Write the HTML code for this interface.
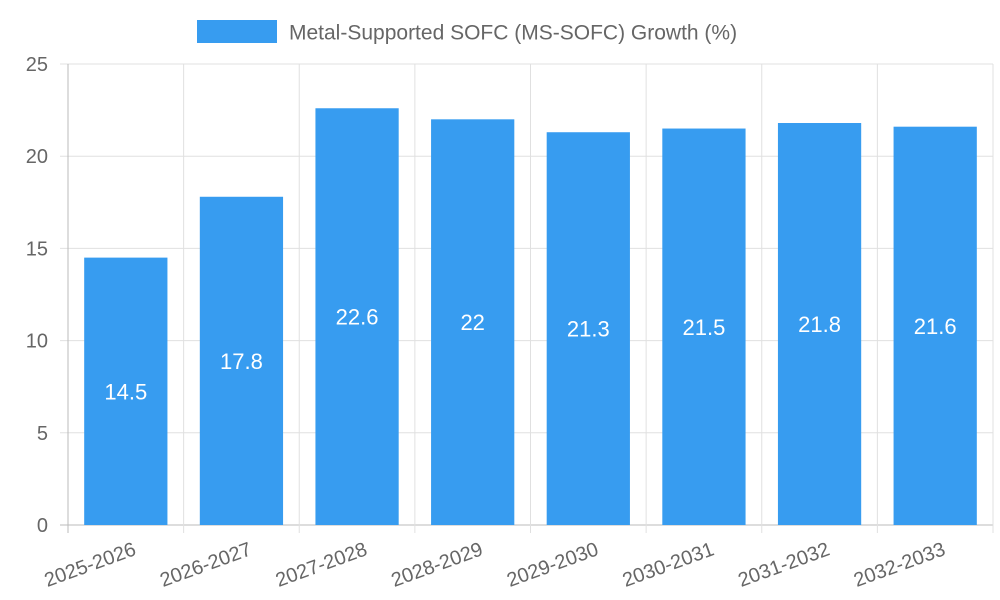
<!DOCTYPE html>
<html><head><meta charset="utf-8"><style>
body{margin:0;background:#fff;}
svg{display:block;font-family:"Liberation Sans",sans-serif;}
</style></head><body>
<svg id="chart" width="1000" height="600">
<g>
<rect x="197" y="20" width="80" height="23" fill="#379cf0"></rect>
<text x="289" y="39.5" font-size="21" fill="#666">Metal-Supported SOFC (MS-SOFC) Growth (%)</text>
</g>
<g id="grid"></g>
<g id="bars"></g>
<g id="axes"></g>
</svg>
<script>
const categories=["2025-2026","2026-2027","2027-2028","2028-2029","2029-2030","2030-2031","2031-2032","2032-2033"];
const values=[14.5,17.8,22.6,22,21.3,21.5,21.8,21.6];
const yTicks=[0,5,10,15,20,25];
const NS="http://www.w3.org/2000/svg";
const L=68,R=993,T=64,B=525,yMax=25;
const y=v=>B-(B-T)*v/yMax;
const cw=(R-L)/categories.length;
const x=i=>L+cw*i;
function mk(tag,attrs,parent,txt){const e=document.createElementNS(NS,tag);for(const k in attrs)e.setAttribute(k,attrs[k]);if(txt!==undefined)e.textContent=txt;parent.appendChild(e);return e;}
const grid=document.getElementById('grid'),bars=document.getElementById('bars'),axes=document.getElementById('axes');
yTicks.forEach(t=>{
 const l=mk('line',{x1:60,x2:R,y1:y(t),y2:y(t),stroke:t===0?'#bbb':'#e0e0e0','stroke-width':1},grid);
 
 
 const tx=mk('text',{x:48,y:y(t)+7,'text-anchor':'end','font-size':20,fill:'#666'},axes,t);
 
 
});
for(let i=0;i<=categories.length;i++){
 const l=mk('line',{x1:x(i),x2:x(i),y1:T,y2:B+8,stroke:i===0?'#bbb':'#e0e0e0','stroke-width':1},grid);
 
 
}
categories.forEach((c,i)=>{
 const bw=cw*0.72,bx=x(i)+(cw-bw)/2;
 const r=mk('rect',{x:bx,y:y(values[i]),width:bw,height:B-y(values[i]),fill:'#379cf0'},bars);
 
 
 const v=mk('text',{x:bx+bw/2,y:(y(values[i])+B)/2+8,'text-anchor':'middle','font-size':22,fill:'#fff'},bars,values[i]);
 
 
 const cx=x(i)+cw/2+8,cy=B+20;
 const tl=mk('text',{x:cx,y:cy+10,'text-anchor':'end','font-size':20,fill:'#666',transform:`rotate(-20 ${cx} ${cy})`},axes,c);
 
 
});
</script>
</body></html>
